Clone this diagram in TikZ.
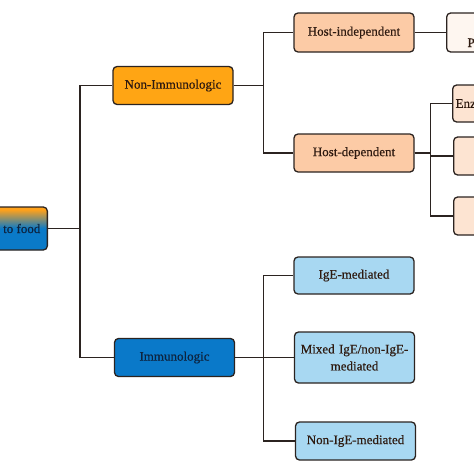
\documentclass[tikz,border=0pt]{standalone}
\usepackage{fontspec}
\setmainfont{Liberation Serif}
\newfontfamily\boxfont{Liberation Serif}[FakeBold=0.5]
\usetikzlibrary{positioning}
\usetikzlibrary{calc}

\definecolor{boxline}{HTML}{2B2320}
\definecolor{textdark}{HTML}{2E1A10}
\definecolor{rootorange}{HTML}{FFA11A}
\definecolor{rootblue}{HTML}{0A7AC8}
\definecolor{nonimmfill}{HTML}{FFA514}
\definecolor{hostfill}{HTML}{FCCBA6}
\definecolor{mechfill}{HTML}{FDE4D2}
\definecolor{palefill}{HTML}{FEF6F0}
\definecolor{immfill}{HTML}{0A79C9}
\definecolor{immtext}{HTML}{0D2440}
\definecolor{igefill}{HTML}{A8D8F2}

\pgfdeclareverticalshading{rootshade}{100bp}{color(0bp)=(rootblue); color(50bp)=(rootblue); color(72bp)=(rootorange); color(100bp)=(rootorange)}

\tikzset{
  box/.style={draw=boxline, line width=1.3pt, rounded corners=4pt,
    minimum width=120pt, minimum height=38pt, align=center,
    font=\boxfont\fontsize{13}{17}\selectfont, text=textdark},
  link/.style={draw=boxline, line width=1.4pt}
}

\begin{document}
\begin{tikzpicture}[x=1pt, y=1pt]
  \path[use as bounding box, clip] (0,0) rectangle (474,-474);

  % root
  \node[box, shading=rootshade, minimum height=43pt, inner xsep=7pt,
    anchor=east, text=immtext] (root) at (48,-228.5) {\makebox[106pt][r]{to food}};

  % first level
  \node[box, fill=nonimmfill] (nonimm) at (173,-85.5) {Non-Immunologic};
  \node[box, fill=immfill, text=immtext] (imm) at (174.5,-357.5) {Immunologic};

  % non-immunologic branch
  \node[box, fill=hostfill, minimum height=39pt] (hostind) at (354,-32.5) {Host-independent};
  \node[box, fill=hostfill] (hostdep) at (354,-153) {Host-dependent};
  \node[box, fill=palefill, minimum height=39pt, anchor=west] (pbox) at (446,-32.5) {};
  \node[font=\boxfont\fontsize{13}{17}\selectfont, text=textdark, anchor=base west]
    (ptext) at (464,-47) {P};
  \node[box, fill=mechfill, minimum height=37pt, text width=114pt, align=left,
    inner xsep=3pt, anchor=west] (enz) at (452,-103.5) {Enz};
  \node[box, fill=mechfill, anchor=west] (mech2) at (453,-156) {};
  \node[box, fill=mechfill, anchor=west] (mech3) at (453,-216) {};

  % immunologic branch
  \node[box, fill=igefill, minimum height=37pt] (ige) at (354,-275.5) {IgE-mediated};
  \node[box, fill=igefill, minimum height=51pt, text width=112pt] (mixed) at (354.5,-357.5)
    {Mixed IgE/non-IgE-\\mediated};
  \node[box, fill=igefill] (nonige) at (355.5,-441) {Non-IgE-mediated};

  % connectors
  \foreach \c in {nonimm,imm}
    \draw[link] (root.east) -- ++(32,0) |- (\c.west);
  \foreach \c in {hostind,hostdep}
    \draw[link] (nonimm.east) -- ++(30,0) |- (\c.west);
  \foreach \c in {ige,mixed,nonige}
    \draw[link] (imm.east) -- ++(28.5,0) |- (\c.west);
  \draw[link] (hostind.east) -- (pbox.west);
  \foreach \c in {enz,mech2,mech3}
    \draw[link] (hostdep.east) -- ++(16,0) |- (\c.west);
\end{tikzpicture}
\end{document}
